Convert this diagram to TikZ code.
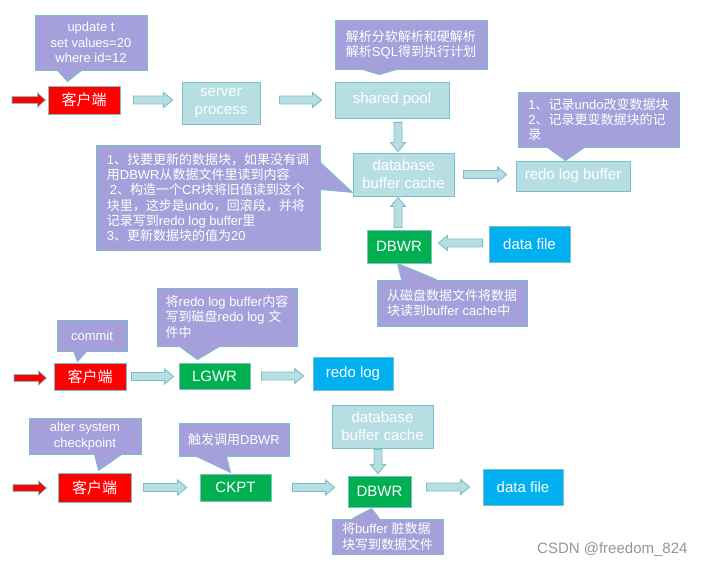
\documentclass[tikz,border=0pt]{standalone}
\usepackage{fontspec}
\setmainfont{Liberation Sans}
\newfontfamily\cjk{Noto Sans CJK SC}
\newcommand\zh[1]{{\cjk #1}}
\usetikzlibrary{calc}
\definecolor{tealfill}{RGB}{183,222,227}
\definecolor{tealline}{RGB}{122,192,198}
\definecolor{callfill}{RGB}{165,160,219}
\definecolor{myred}{RGB}{255,0,0}
\definecolor{mygreen}{RGB}{0,176,80}
\definecolor{myblue}{RGB}{0,176,240}
\definecolor{wmgray}{RGB}{150,150,150}
\tikzset{
 box/.style={draw=tealline, line width=0.9pt, inner sep=0pt, text=white, align=center, font=\fontsize{15}{18}\selectfont},
 tbox/.style={box, fill=tealfill},
 rbox/.style={box, fill=myred},
 gbox/.style={box, fill=mygreen},
 bbox/.style={box, fill=myblue},
 call/.style={draw=tealline, line width=0.9pt, fill=callfill, inner sep=0pt, text=white, font=\fontsize{13}{15.3}\selectfont},
 callL/.style={call, align=left},
 callC/.style={call, align=center},
 tealarrow/.style={fill=tealfill, draw=tealline, line width=0.9pt, line join=miter},
 redarrow/.style={fill=myred, draw=tealline, line width=0.7pt, line join=miter},
}
% block arrow from #2 to #3 (calc coordinates), style #1
\newcommand\barrow[3][tealarrow]{%
  \path[#1] let \p1=#2, \p2=#3, \n1={atan2(\y2-\y1,\x2-\x1)}, \n2={veclen(\x2-\x1,\y2-\y1)} in
  {[shift={(\p1)}, rotate=\n1] (0,-4) -- (\n2-9,-4) -- (\n2-9,-7.5) -- (\n2,0) -- (\n2-9,7.5) -- (\n2-9,4) -- (0,4) -- cycle};}
\newcommand\rarrow[2]{%
  \path[redarrow] let \p1=#1, \p2=#2, \n1={atan2(\y2-\y1,\x2-\x1)}, \n2={veclen(\x2-\x1,\y2-\y1)} in
  {[shift={(\p1)}, rotate=\n1] (0,-3.5) -- (\n2-8,-3.5) -- (\n2-8,-7) -- (\n2,0) -- (\n2-8,7) -- (\n2-8,3.5) -- (0,3.5) -- cycle};}
% callout pointer: base1, tip, base2, inward offset (calc expressions)
\newcommand\callptr[4]{%
  \fill[callfill] ($#1+#4$) -- ($#1$) -- ($#2$) -- ($#3$) -- ($#3+#4$) -- cycle;
  \draw[tealline, line width=0.9pt, line join=round] ($#1$) -- ($#2$) -- ($#3$);}

\begin{document}
\begin{tikzpicture}[x=1pt, y=-1pt]
\useasboundingbox (0,0) rectangle (713,567);
\fill[white] (0,0) rectangle (713,567);

% ---------- row 1 ----------
\node[rbox, minimum width=72, minimum height=28] (cA) at (84,100) {\zh{客户端}};
\node[tbox, minimum width=78, minimum height=42] (sp) at (221,103) {server\\process};
\node[tbox, minimum width=114, minimum height=36] (shp) at (392,100) {shared pool};
\node[tbox, minimum width=101, minimum height=43] (dbc) at (403.5,174.5) {database\\buffer cache};
\node[tbox, minimum width=114, minimum height=30] (rlb) at (573,176) {redo log buffer};
\node[gbox, minimum width=64, minimum height=33] (dbw) at (399,246.5) {DBWR};
\node[bbox, minimum width=81, minimum height=36] (df) at (529.5,244) {data file};

\node[callC, minimum width=112, minimum height=55] (k1) at (91,42.5) {update t\\set values=20\\where id=12};
\node[callL, minimum width=152, minimum height=49] (k2) at (411,44.5) {\zh{解析分软解析和硬解析}\\\zh{解析}SQL\zh{得到执行计划}};
\node[callL, minimum width=161, minimum height=55] (k3) at (598.5,119.5) {1\zh{、记录}undo\zh{改变数据块}\\2\zh{、记录更变数据块的记}\\\zh{录}};
\node[callL, minimum width=224, minimum height=105] (k4) at (208,197.5) {1\zh{、找要更新的数据块，如果没有调}\\\zh{用}DBWR\zh{从数据文件里读到内容}\\\hspace*{3pt}2\zh{、构造一个}CR\zh{块将旧值读到这个}\\\zh{块里，这步是}undo\zh{，回滚段，并将}\\\zh{记录写到}redo log buffer\zh{里}\\3\zh{、更新数据块的值为}20};
\node[callL, minimum width=150, minimum height=46] (k5) at (452,303) {\zh{从磁盘数据文件将数据}\\\zh{块读到}buffer cache\zh{中}};

\coordinate (s1) at (12,100);
\rarrow{(s1)}{($(cA.west)+(-2,0)$)}
\barrow{($(cA.east)+(13,0)$)}{($(cA.east -| sp.west)+(-9,0)$)}
\barrow{($(sp.east |- shp.west)+(19,0)$)}{($(shp.west)+(-13,0)$)}
\barrow{($(shp.south)+(6,4)$)}{($(dbc.north)+(-5.5,-1)$)}
\barrow{($(dbc.east)+(9,0)$)}{($(dbc.east -| rlb.west)+(-9,0)$)}
\barrow{($(dbw.north)+(-1,-2)$)}{($(dbc.south)+(-5.5,1)$)}
\barrow{($(df.west)+(-6,-1)$)}{($(dbw.east)+(7,-3.5)$)}

\callptr{(k1.south west)+(23,0)}{(cA.north west)+(20,-4)}{(k1.south west)+(47,0)}{(0,-1.2)}
\callptr{(k2.south west)+(28,0)}{(shp.north west)+(45,-7)}{(k2.south west)+(62,0)}{(0,-1.2)}
\callptr{(k3.south west)+(30,0)}{(rlb.north west)+(50,0)}{(k3.south west)+(67,0)}{(0,-1.2)}
\callptr{(k4.north east)+(0,18)}{(dbc.south west)+(0,-4)}{(k4.north east)+(0,45)}{(-1.2,0)}
\callptr{(k5.north west)+(25,0)}{(dbw.south west)+(31,0)}{(k5.north west)+(60,0)}{(0,1.2)}

% ---------- row 2 ----------
\node[rbox, minimum width=72, minimum height=27] (cB) at (90,376.5) {\zh{客户端}};
\node[gbox, minimum width=71, minimum height=26] (lg) at (214.5,376) {LGWR};
\node[bbox, minimum width=80, minimum height=33] (rl) at (353,373.5) {redo log};
\node[callC, minimum width=70, minimum height=31] (k6) at (92,335.5) {commit};
\node[callL, minimum width=140, minimum height=58] (k7) at (227,317) {\zh{将}redo log buffer\zh{内容}\\\zh{写到磁盘}redo log \zh{文}\\\zh{件中}};

\coordinate (s2) at (14,378);
\rarrow{(s2)}{($(cB.west)+(-7,1.5)$)}
\barrow{($(cB.east)+(5,0)$)}{($(cB.east -| lg.west)+(-5,0)$)}
\barrow{($(lg.east)+(11,0)$)}{($(lg.east -| rl.west)+(-9,0)$)}

\callptr{(k6.south west)+(17,0)}{(cB.north west)+(24,-1)}{(k6.south west)+(30,0)}{(0,-1.2)}
\callptr{(k7.south west)+(23,0)}{(lg.north west)+(19,-3)}{(k7.south west)+(63,0)}{(0,-1.2)}

% ---------- row 3 ----------
\node[rbox, minimum width=73, minimum height=29] (cC) at (94.5,487.5) {\zh{客户端}};
\node[gbox, minimum width=71, minimum height=27] (ck) at (235.5,487.5) {CKPT};
\node[tbox, minimum width=101, minimum height=43] (dbc2) at (382.5,426.5) {database\\buffer cache};
\node[gbox, minimum width=63, minimum height=31] (dbw2) at (379.5,491.5) {DBWR};
\node[bbox, minimum width=80, minimum height=36] (df2) at (523,487) {data file};
\node[callC, minimum width=112, minimum height=36] (k8) at (85,436) {alter system\\checkpoint};
\node[callL, minimum width=110, minimum height=33] (k9) at (234,439.5) {\zh{触发调用}DBWR};
\node[callL, minimum width=111, minimum height=35] (k10) at (387.5,536.5) {\zh{将}buffer \zh{脏数据}\\\zh{块写到数据文件}};

\coordinate (s3) at (13,488);
\rarrow{(s3)}{($(cC.west)+(-11,0.5)$)}
\barrow{($(cC.east)+(12,0)$)}{($(cC.east -| ck.west)+(-13,0)$)}
\barrow{($(ck.east)+(21,0)$)}{($(ck.east -| dbw2.west)+(-13,0)$)}
\barrow{($(dbc2.south)+(-4.5,1)$)}{($(dbw2.north)+(-1.5,-2)$)}
\barrow{($(dbw2.east)+(15,-4.5)$)}{($(df2.west)+(-13,0)$)}

\callptr{(k8.south west)+(66,0)}{(cC.north west)+(41,-2)}{(k8.south west)+(93,0)}{(0,-1.2)}
\callptr{(k9.south west)+(18,0)}{(ck.north west)+(31,-1)}{(k9.south west)+(48,0)}{(0,-1.2)}
\callptr{(k10.north west)+(21,0)}{(dbw2.south west)+(24,1)}{(k10.north west)+(48,0)}{(0,1.2)}

\node[text=wmgray, font=\fontsize{15}{18}\selectfont, anchor=west, inner sep=0pt] (wm) at (537,550) {CSDN @freedom\_824};
\end{tikzpicture}
\end{document}
